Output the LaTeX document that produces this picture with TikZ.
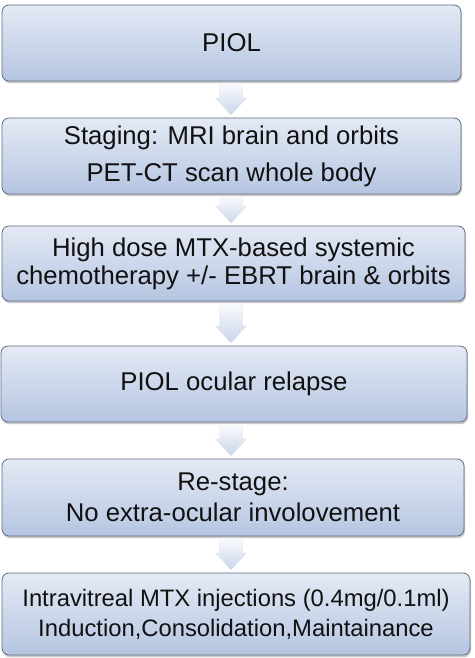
\documentclass[tikz,border=0pt]{standalone}
\usepackage{fontspec}
\setmainfont{Liberation Sans}
\usepackage{tikz}
\usetikzlibrary{positioning,calc,shadows}
\definecolor{boxtop}{HTML}{E4EAF5}
\definecolor{boxbottom}{HTML}{B5C5E1}
\definecolor{boxline}{HTML}{5F6D86}
\definecolor{flowtop}{HTML}{F7F9FC}
\definecolor{flowbottom}{HTML}{CAD5E9}
\definecolor{inktext}{HTML}{111111}

\begin{document}
\begin{tikzpicture}[
  box/.style={draw=boxline, line width=0.8pt, rounded corners=7pt, anchor=north west,
    top color=boxtop, bottom color=boxbottom, align=center, text=inktext, inner sep=0pt,
    outer sep=0pt, font=\fontsize{25.7}{31}\selectfont,
    drop shadow={shadow xshift=1pt, shadow yshift=-2.2pt, opacity=0.35, fill=black!60}},
  flow/.style={top color=flowtop, bottom color=flowbottom, draw=white!80!boxline, line width=0.3pt}
]
\useasboundingbox (0,0) rectangle (474pt,-658pt);

\node[box, minimum width=459pt, minimum height=76pt] (piol) at (2pt,-5pt) {PIOL};
\node[box, minimum width=459pt, minimum height=76pt,
  font=\fontsize{25.7}{37}\selectfont] (staging) at (2pt,-118pt)
  {Staging: MRI brain and orbits\\PET-CT scan whole body};
\node[box, minimum width=463pt, minimum height=75pt,
  font=\fontsize{25.7}{28}\selectfont] (chemo) at (2pt,-226pt)
  {High dose MTX-based systemic\\chemotherapy +/- EBRT brain \& orbits};
\node[box, minimum width=466pt, minimum height=76pt] (relapse) at (1pt,-346pt)
  {PIOL ocular relapse};
\node[box, minimum width=462pt, minimum height=77pt] (restage) at (2pt,-459pt)
  {Re-stage:\\No extra-ocular involovement};
\node[box, minimum width=468pt, minimum height=82pt,
  font=\fontsize{23.8}{30}\selectfont] (ivmtx) at (2pt,-573pt)
  {Intravitreal MTX injections (0.4mg/0.1ml)\\Induction,Consolidation,Maintainance};

% block arrows between the steps
\foreach \up/\dn in {piol/staging, staging/chemo, chemo/relapse, relapse/restage, restage/ivmtx}
  \path[flow] let \p1=(\up.south), \p2=(\dn.north) in
    (231pt-11.5pt,\y1-4pt) -- (231pt+11.5pt,\y1-4pt) -- (231pt+11.5pt,\y2+20pt)
    -- (231pt+15.5pt,\y2+20pt) -- (231pt,\y2+3pt) -- (231pt-15.5pt,\y2+20pt)
    -- (231pt-11.5pt,\y2+20pt) -- cycle;
\end{tikzpicture}
\end{document}
